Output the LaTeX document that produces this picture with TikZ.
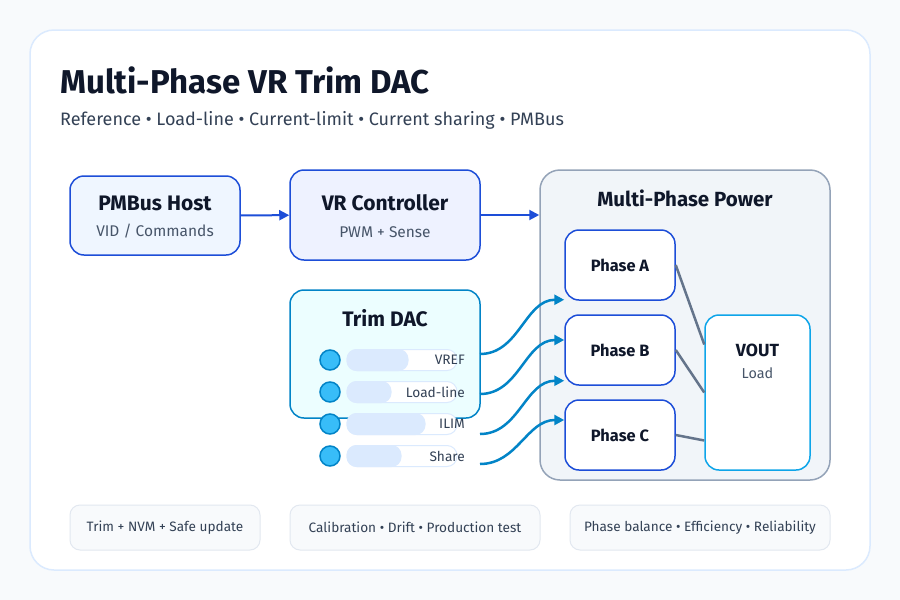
\documentclass[tikz,border=0pt]{standalone}
\usepackage{fontspec}
\setmainfont{Fira Sans}
\usetikzlibrary{arrows.meta}
\definecolor{pagebg}{HTML}{F8FAFC}
\definecolor{cardline}{HTML}{DBEAFE}
\definecolor{ink}{HTML}{0F172A}
\definecolor{slate}{HTML}{334155}
\definecolor{muted}{HTML}{475569}
\definecolor{hostblue}{HTML}{1D4ED8}
\definecolor{hostfill}{HTML}{EFF6FF}
\definecolor{ctrlfill}{HTML}{EEF2FF}
\definecolor{dacline}{HTML}{0284C7}
\definecolor{dacfill}{HTML}{ECFEFF}
\definecolor{knob}{HTML}{38BDF8}
\definecolor{barfill}{HTML}{DBEAFE}
\definecolor{powfill}{HTML}{F1F5F9}
\definecolor{powline}{HTML}{94A3B8}
\definecolor{voutline}{HTML}{0EA5E9}
\definecolor{wire}{HTML}{64748B}
\definecolor{pillline}{HTML}{E2E8F0}
\tikzset{
  blk/.style={draw=hostblue, line width=1.5pt, rounded corners=14pt, inner sep=0pt},
  ttl/.style={text=ink, font=\bfseries\fontsize{21}{25}\selectfont},
  sub/.style={text=muted, font=\fontsize{15.5}{19}\selectfont},
  link/.style={draw=hostblue, line width=2pt, -{Triangle[length=10pt,width=10pt]}},
  flow/.style={draw=dacline, line width=2.5pt, -{Triangle[length=10pt,width=10pt]}},
  tie/.style={draw=wire, line width=2.5pt},
  pill/.style={draw=pillline, fill=pagebg, line width=1pt, rounded corners=10pt,
    minimum height=45pt, text=slate, font=\fontsize{13.6}{16}\selectfont},
  trimbar/.style={draw=cardline, fill=white, line width=1pt, rounded corners=10pt,
    minimum width=110pt, minimum height=21pt, inner sep=0pt}
}
\newcommand{\trimrow}[5]{%
  \node[circle, draw=dacline, fill=knob, line width=1.5pt, minimum size=20pt, inner sep=0pt] (#1k) at (330,#2) {};
  \node[trimbar] (#1b) at (402,#2) {};
  \fill[barfill, rounded corners=10pt] (#1b.south west) rectangle ([xshift=#3pt]#1b.north west);
  \node[anchor=east, inner sep=0pt, text=slate, font=\fontsize{13.7}{16}\selectfont] (#1l) at (465,#2) {#4};
  \coordinate (#1o) at (480,#5);}

\begin{document}
\begin{tikzpicture}[x=1pt,y=-1pt]
\fill[pagebg] (0,0) rectangle (900,600);
\draw[cardline, fill=white, line width=1.5pt, rounded corners=24pt] (30,30) rectangle (870,570);

% heading
\node[anchor=base west, inner sep=0pt, text=ink, font=\bfseries\fontsize{33}{38}\selectfont] (head) at (60,93) {Multi-Phase VR Trim DAC};
\node[anchor=base west, inner sep=0pt, text=slate, font=\fontsize{18}{22}\selectfont] (tag) at (60,125) {Reference • Load-line • Current-limit • Current sharing • PMBus};

% host and controller
\node[blk, fill=hostfill, minimum width=170pt, minimum height=79pt] (host) at (155,215.5) {};
\node[ttl] (hostt) at (155,203) {PMBus Host};
\node[sub] (hosts) at (155,231) {VID / Commands};
\node[blk, fill=ctrlfill, minimum width=190pt, minimum height=90pt] (ctrl) at (385,215) {};
\node[ttl] (ctrlt) at (385,203) {VR Controller};
\node[sub] (ctrls) at (385,232) {PWM + Sense};

% power stage
\node[draw=powline, fill=powfill, line width=1.5pt, rounded corners=20pt, minimum width=290pt, minimum height=310pt, inner sep=0pt] (pow) at (685,325) {};
\node[ttl, font=\bfseries\fontsize{20.5}{24}\selectfont] (powt) at (685,198) {Multi-Phase Power};
\node[blk, fill=white, minimum width=110pt, minimum height=70pt] (pa) at (620,265) {};
\node[ttl, font=\bfseries\fontsize{16.4}{20}\selectfont] (pat) at (620,265) {Phase A};
\node[blk, fill=white, minimum width=110pt, minimum height=70pt] (pb) at (620,350) {};
\node[ttl, font=\bfseries\fontsize{16.4}{20}\selectfont] (pbt) at (620,350) {Phase B};
\node[blk, fill=white, minimum width=110pt, minimum height=70pt] (pc) at (620,435) {};
\node[ttl, font=\bfseries\fontsize{16.4}{20}\selectfont] (pct) at (620,435) {Phase C};
\node[blk, draw=voutline, fill=white, minimum width=105pt, minimum height=155pt] (vout) at (757.5,392.5) {};
\node[ttl, font=\bfseries\fontsize{17.6}{21}\selectfont] (voutt) at (757.5,350) {VOUT};
\node[sub, font=\fontsize{14.4}{17}\selectfont] (vouts) at (757.5,373) {Load};

% trim dac
\node[blk, draw=dacline, fill=dacfill, minimum width=190pt, minimum height=128pt] (dac) at (385,354) {};
\node[ttl] (dact) at (385,318) {Trim DAC};
\trimrow{vref}{360}{62}{VREF}{354}
\trimrow{ll}{392}{45}{Load-line}{394}
\trimrow{ilim}{424}{79}{ILIM}{434}
\trimrow{share}{456}{55}{Share}{464}

% connectors
\draw[link] (host) -- (ctrl);
\draw[link] (ctrl.east) -- (ctrl.east -| pow.west);
\draw[flow] (vrefo) to[out=0, in=180] ([yshift=1pt]pa.south west);
\draw[flow] (llo) to[out=0, in=180] ([yshift=10pt]pb.west);
\draw[flow] (ilimo) to[out=0, in=180] ([yshift=5pt]pb.south west);
\draw[flow] (shareo) to[out=0, in=180] ([yshift=15pt]pc.west);
\draw[tie] (pa.east) -- ([yshift=48pt]vout.west);
\draw[tie] (pb.east) -- (vout.west);
\draw[tie] (pc.east) -- ([yshift=-48pt]vout.west);

% footer
\node[pill, minimum width=190pt] (f1) at (165,527.5) {Trim + NVM + Safe update};
\node[pill, minimum width=250pt] (f2) at (415,527.5) {Calibration • Drift • Production test};
\node[pill, minimum width=260pt] (f3) at (700,527.5) {Phase balance • Efficiency • Reliability};
\end{tikzpicture}
\end{document}
